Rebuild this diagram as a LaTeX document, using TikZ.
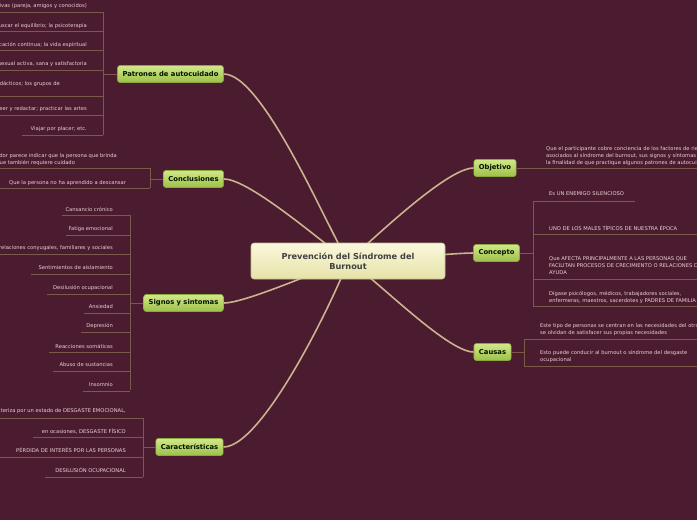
\documentclass[tikz,border=0pt]{standalone}
\usepackage{fontspec}
\setmainfont{DejaVu Sans}
\usetikzlibrary{backgrounds}
\definecolor{bgc}{HTML}{4B1B30}
\definecolor{linec}{HTML}{7A5A48}
\definecolor{txtc}{HTML}{E8D2D2}
\definecolor{branchc}{HTML}{C9B48E}
\definecolor{btop}{HTML}{D2E88A}
\definecolor{bbot}{HTML}{9DC048}
\definecolor{bdr}{HTML}{8AA83C}
\definecolor{mtop}{HTML}{FAF8DC}
\definecolor{mbot}{HTML}{E6E2A8}
\tikzset{
  x=1pt,y=-1pt,
  btn/.style={draw=bdr,line width=0.6pt,rounded corners=2.5pt,top color=btop,bottom color=bbot,
    text=black!80!green!40!black,font=\fontsize{6.8}{8}\selectfont\bfseries,minimum height=17pt,inner xsep=5pt},
  leaf/.style={text=txtc,font=\fontsize{5.2}{7}\selectfont,inner sep=0pt},
  lline/.style={draw=linec,line width=0.6pt},
  branch/.style={draw=branchc,line width=1.6pt},
}
\begin{document}
\begin{tikzpicture}
\useasboundingbox (0,0) rectangle (697,520);
\clip (0,0) rectangle (697,520);
% nodes
\node[draw=mbot!60!black!40!mbot,line width=0.6pt,rounded corners=3pt,top color=mtop,bottom color=mbot,
  minimum width=194pt,minimum height=36pt,align=center,font=\fontsize{8.2}{10}\selectfont\bfseries,text=black!75]
  (main) at (348,261) {Prevención del Síndrome del\\Burnout};
\node[btn] (pat) at (170.5,74) {Patrones de autocuidado};
\node[btn] (con) at (193.5,179) {Conclusiones};
\node[btn] (sig) at (183.5,303) {Signos y sintomas};
\node[btn] (car) at (189.5,447) {Características};
\node[btn] (obj) at (495,168) {Objetivo};
\node[btn] (cpt) at (496.5,253) {Concepto};
\node[btn] (cau) at (492.5,352) {Causas};
\begin{pgfonlayer}{background}
\fill[bgc] (0,0) rectangle (697,520);
\draw[branch] (main.center) to[out=122,in=0,looseness=0.45] (pat.east);
\draw[branch] (main.center) to[out=145,in=0,looseness=0.45] (con.east);
\draw[branch] (main.center) to[out=195,in=0,looseness=0.45] (sig.east);
\draw[branch] (main.center) to[out=250,in=0,looseness=0.45] (car.east);
\draw[branch] (main.center) to[out=40,in=180,looseness=0.45] (obj.west);
\draw[branch] (main.center) to[out=0,in=180,looseness=0.4] (cpt.west);
\draw[branch] (main.center) to[out=-30,in=180,looseness=0.45] (cau.west);
\end{pgfonlayer}
% Patrones leaves
\draw[lline] (pat.west) -- (103,74);
\draw[lline] (103,12) -- (103,135);
\foreach \yy in {12,31,50,70,96,115}{\draw[lline] (0,\yy) -- (103,\yy);}
\draw[lline] (22,135) -- (103,135);
\node[leaf,anchor=east] (p1) at (87,6) {Relaciones interpersonales positivas (pareja, amigos y conocidos)};
\node[leaf,anchor=east] (p2) at (87,26) {Buscar el equilibrio; la psicoterapia};
\node[leaf,anchor=east] (p3) at (87,45) {La educación continua; la vida espiritual};
\node[leaf,anchor=east] (p4) at (87,64) {Una vida sexual activa, sana y satisfactoria};
\node[leaf,anchor=east] (p5) at (60,84) {Los ejercicios didácticos; los grupos de};
\node[leaf,anchor=east] (p6) at (87,109) {Leer y redactar; practicar las artes};
\node[leaf,anchor=east] (p7) at (87,129) {Viajar por placer; etc.};
% Conclusiones leaves
\draw[lline] (con.west) -- (150,179);
\draw[lline] (150,168) -- (150,188);
\draw[lline] (0,168) -- (150,168);
\draw[lline] (0,188) -- (150,188);
\node[leaf,anchor=east,align=left] (c1) at (117,159.5) {Este cuidado al cuidador parece indicar que la persona que brinda\\ayuda suele olvidar que también requiere cuidado};
\node[leaf,anchor=west] (c2) at (9,183) {Que la persona no ha aprendido a descansar};
% Signos leaves
\draw[lline] (sig.west) -- (130,303);
\draw[lline] (130,215) -- (130,390);
\foreach \t/\yy/\xx in {Cansancio crónico/209/62, Fatiga emocional/229/66, {Deterioro de las relaciones conyugales, familiares y sociales}/248/0, Sentimientos de aislamiento/268/31, Desilusión ocupacional/288/47, Ansiedad/307/84, Depresión/326/81, Reacciones somáticas/346/49, Abuso de sustancias/365/53, Insomnio/385/83}{
  \node[leaf,anchor=east] at (113,\yy) {\t};
  \draw[lline] (\xx,\yy+6) -- (130,\yy+6);
}
% Caracteristicas leaves
\draw[lline] (car.west) -- (143,447);
\draw[lline] (143,418) -- (143,477);
\node[leaf,anchor=east] (k1) at (126,411) {Se caracteriza por un estado de DESGASTE EMOCIONAL,};
\draw[lline] (0,418) -- (143,418);
\node[leaf,anchor=east] (k2) at (126,431) {en ocasiones, DESGASTE FÍSICO};
\draw[lline] (33,437) -- (143,437);
\node[leaf,anchor=east] (k3) at (126,450.5) {PÉRDIDA DE INTERÉS POR LAS PERSONAS};
\draw[lline] (0,457) -- (143,457);
\node[leaf,anchor=east] (k4) at (126,470) {DESILUSIÓN OCUPACIONAL};
\draw[lline] (45,477) -- (143,477);
% Objetivo
\draw[lline] (obj.east) -- (697,168);
\node[leaf,anchor=west,align=left] (o1) at (546,156) {Que el participante cobre conciencia de los factores de riesgo\\asociados al síndrome del burnout, sus signos y síntomas con\\la finalidad de que practique algunos patrones de autocuidado};
% Concepto
\draw[lline] (cpt.east) -- (533,253);
\draw[lline] (533,201) -- (533,306);
\node[leaf,anchor=west] at (549,194) {Es UN ENEMIGO SILENCIOSO};
\draw[lline] (533,201) -- (635,201);
\node[leaf,anchor=west] at (549,228) {UNO DE LOS MALES TÍPICOS DE NUESTRA ÉPOCA};
\draw[lline] (533,234) -- (697,234);
\node[leaf,anchor=west,align=left] at (549,266) {Que AFECTA PRINCIPALMENTE A LAS PERSONAS QUE\\FACILITAN PROCESOS DE CRECIMIENTO O RELACIONES DE\\AYUDA};
\draw[lline] (533,279) -- (697,279);
\node[leaf,anchor=west,align=left] at (549,297) {Dígase psicólogos, médicos, trabajadores sociales,\\enfermeras, maestros, sacerdotes y PADRES DE FAMILIA};
\draw[lline] (533,306) -- (697,306);
% Causas
\draw[lline] (cau.east) -- (524,352);
\draw[lline] (524,339) -- (524,366);
\node[leaf,anchor=west,align=left] at (540,329.5) {Este tipo de personas se centran en las necesidades del otro y\\se olvidan de satisfacer sus propias necesidades};
\draw[lline] (524,339) -- (697,339);
\node[leaf,anchor=west,align=left] at (540,356.5) {Esto puede conducir al burnout o síndrome del desgaste\\ocupacional};
\draw[lline] (524,366) -- (697,366);
\end{tikzpicture}
\end{document}
